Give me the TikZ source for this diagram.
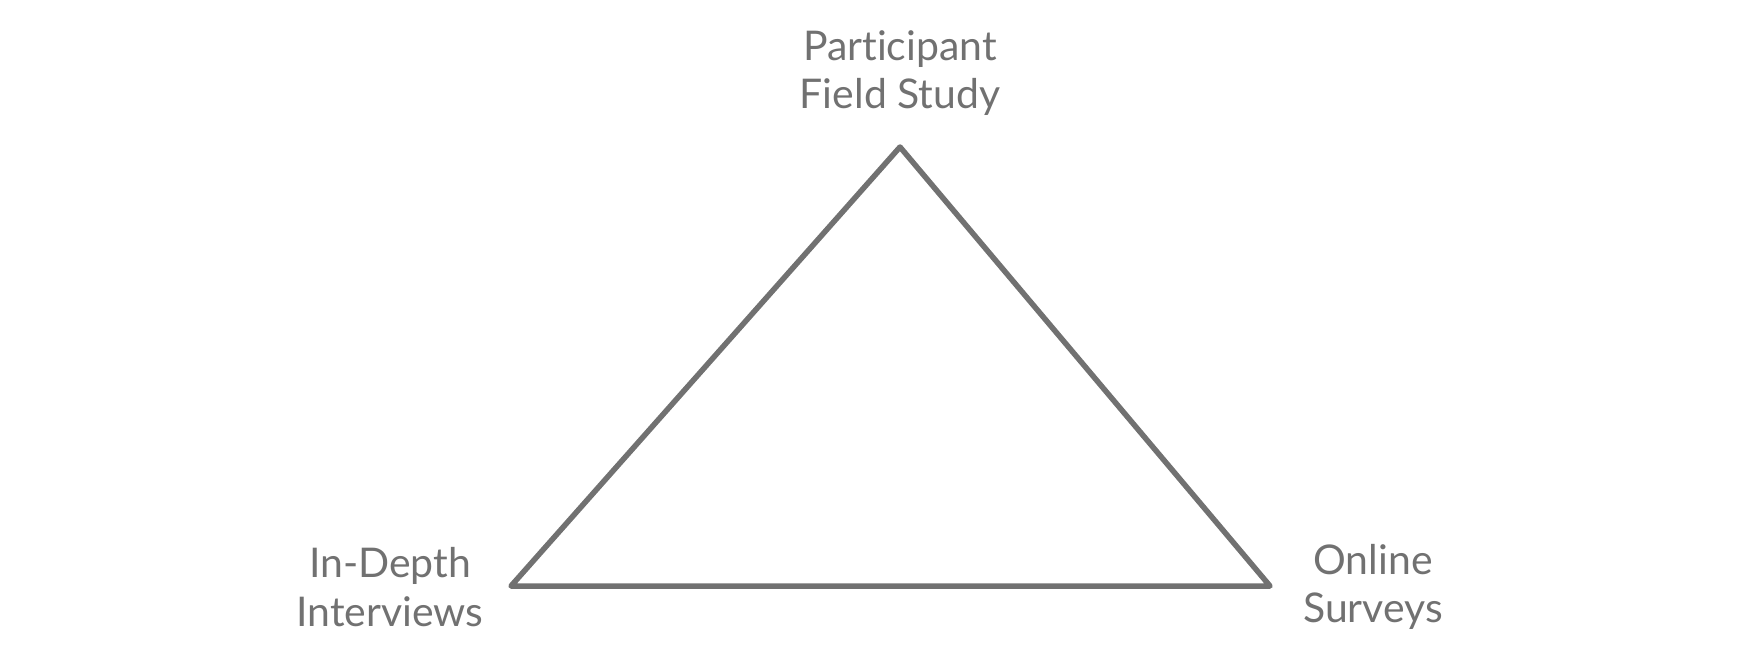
\documentclass[tikz,border=0pt]{standalone}
\usepackage{fontspec}
\setmainfont[Ligatures={NoCommon}]{Lato}
\usepackage{xcolor}
\usepackage{tikz}
\usetikzlibrary{positioning}

\definecolor{edgegray}{HTML}{717171}

\tikzset{
    methodlabel/.style={
        text=edgegray,
        align=center,
        font=\fontsize{23.3}{27.6}\selectfont
    },
    triline/.style={
        draw=edgegray,
        line width=0.11cm,
        line join=round,
        line cap=round
    }
}

\begin{document}
\begin{tikzpicture}[x=0.02cm,y=-0.02cm]
                \useasboundingbox (0,0) rectangle (1764,664);

                \coordinate (apex) at (900,147);
                \coordinate (left) at (511,586);
                \coordinate (right) at (1270,586);

                \node[methodlabel] (field) at (900,73) {Participant\\Field Study};
                \node[methodlabel] (interview) at (390,587) {In-Depth\\Interviews};
                \node[methodlabel] (survey) at (1373,587) {Online\\Surveys};

                \draw[triline] (apex) -- (left) -- (right) -- cycle;

            \end{tikzpicture}
\end{document}
